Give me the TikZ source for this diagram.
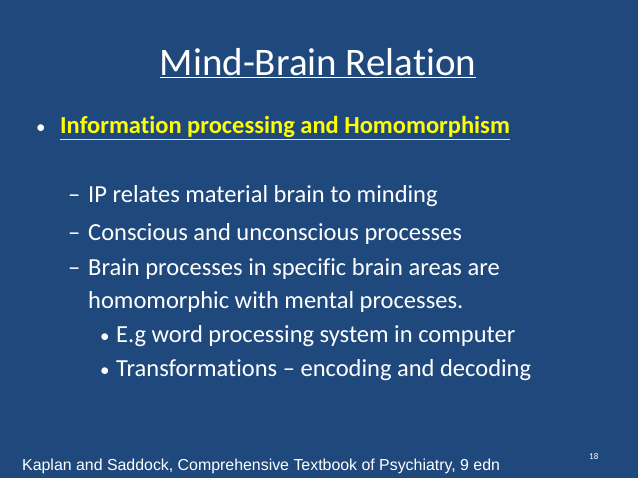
\documentclass[tikz,border=0pt]{standalone}
\usepackage{fontspec}
\setmainfont[Ligatures={NoCommon,NoDiscretionary,NoContextual}]{Carlito}
\newfontfamily\arialf{Liberation Sans}
\definecolor{bg}{HTML}{1F497D}
\definecolor{yel}{HTML}{FFFF00}
\begin{document}
\begin{tikzpicture}[x=1pt,y=-1pt,
  txt/.style={anchor=base west,inner sep=0pt,text=white,font=\fontsize{24.5}{28}\selectfont},
  bul/.style={anchor=base west,inner sep=0pt,text=white,font=\fontsize{19}{22}\selectfont}]
\fill[bg] (0,0) rectangle (638,478);
\useasboundingbox (0,0) rectangle (638,478);
\node[anchor=base,inner sep=0pt,text=white,font=\fontsize{39}{44}\selectfont] (title) at (318,76) {\underline{Mind-Brain Relation}};
\node[bul] (b1) at (36,134) {•};
\node[txt,text=yel,font=\fontsize{24.5}{28}\selectfont\bfseries] (b1t) at (60,134) {\underline{Information processing and Homomorphism}};
\node[txt] (d1) at (68,203) {–};
\node[txt] (d1t) at (88,203) {IP relates material brain to minding};
\node[txt] (d2) at (68,241) {–};
\node[txt] (d2t) at (88,241) {Conscious and unconscious processes};
\node[txt] (d3) at (68,276) {–};
\node[txt] (d3t) at (88,276) {Brain processes in specific brain areas are};
\node[txt] (d3u) at (88,309) {homomorphic with mental processes.};
\node[bul] (s1) at (100,343) {•};
\node[txt] (s1t) at (116,343) {E.g word processing system in computer};
\node[bul] (s2) at (100,377) {•};
\node[txt] (s2t) at (116,377) {Transformations – encoding and decoding};
\node[anchor=base west,inner sep=0pt,text=white,font=\fontsize{9}{10}\selectfont] (num) at (589,460) {18};
\node[anchor=base west,inner sep=0pt,text=white,font=\arialf\fontsize{15.9}{18}\selectfont] (foot) at (22,471) {Kaplan and Saddock, Comprehensive Textbook of Psychiatry, 9 edn};
\end{tikzpicture}
\end{document}
